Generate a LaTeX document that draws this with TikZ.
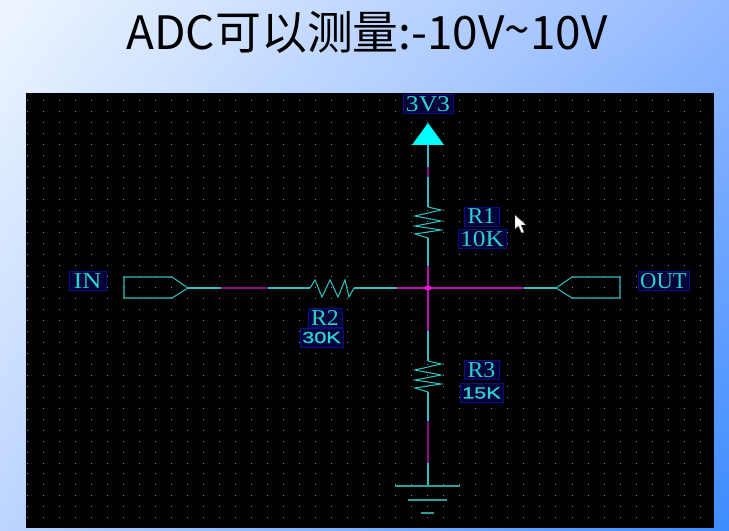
\documentclass[tikz,border=0pt]{standalone}
\usepackage{fontspec}
\setmainfont{Liberation Serif}
\newfontfamily\titlefont{Noto Sans CJK SC}
\newfontfamily\valfont[FakeBold=1.2]{Liberation Sans}
\usetikzlibrary{calc,shadings}
\definecolor{bgul}{HTML}{EEF6FF}
\definecolor{bgur}{HTML}{94B9FF}
\definecolor{bgll}{HTML}{BDD5FF}
\definecolor{bglr}{HTML}{3C8CFF}
\definecolor{wirec}{HTML}{30C0C0}
\definecolor{gndc}{HTML}{2E9E98}
\definecolor{magw}{HTML}{8A1080}
\definecolor{hotw}{HTML}{B810A8}
\definecolor{jdot}{HTML}{F010E0}
\definecolor{labbg}{HTML}{03033A}
\definecolor{labbd}{HTML}{0A1080}
\definecolor{labtx}{HTML}{2CD0D4}
\definecolor{dotc}{HTML}{8C8C8C}
\definecolor{trig}{HTML}{00FFFF}
\newcommand{\labtext}[2]{\raisebox{-0.7pt}{\scalebox{#1}[1]{#2}}}
\tikzset{
  wire/.style={draw=wirec,line width=0.78pt},
  gndl/.style={draw=gndc,line width=#1},
  busm/.style={draw=magw,line width=1pt},
  bush/.style={draw=hotw,line width=1pt},
  lab/.style={fill=labbg,draw=labbd,line width=0.6pt,text=labtx,inner sep=0pt,anchor=center,font=\fontsize{17}{17}\selectfont},
  lbl/.style={lab,minimum width=#1*0.75pt,minimum height=14.25pt},
  valb/.style={lab,minimum width=#1*0.75pt,minimum height=14.25pt,font=\valfont\fontsize{12}{13}\selectfont}
}
\begin{document}
\begin{tikzpicture}[x=0.75pt,y=-0.75pt]
\useasboundingbox (0,0) rectangle (729,531);
\shade[upper left=bgul,upper right=bgur,lower left=bgll,lower right=bglr] (0,0) rectangle (729,531);
\fill[black] (26,93) rectangle (714,528);
\foreach \i in {0,...,42}{\foreach \j in {0,...,38}{
  \fill[dotc] ({27+16.03*\i-0.5},{101+10.97*\j-0.5}) rectangle ++(1,1);
}}
\node[text=black,font=\titlefont\fontsize{33.5}{34}\selectfont,inner sep=0pt] (title) at (367,32) {\scalebox{1.027}[1.03]{ADC可以测量:-10V\raisebox{0.1ex}{\char`\~}10V}};
% coordinates
\coordinate (pwr) at (428,145);
\coordinate (r1t) at (428,207);
\coordinate (r1b) at (428,238);
\coordinate (j) at (428,288);
\coordinate (r3t) at (428,361);
\coordinate (r3b) at (428,392);
\coordinate (gnd) at (428,486);
\coordinate (r2l) at (310,288);
\coordinate (r2r) at (354,288);
\coordinate (inp) at (188,288);
\coordinate (outp) at (556,288);
% power
\fill[trig] (428,123) -- (412,145) -- (444,145) -- cycle;
\path[wire] (pwr) -- (r1t);
\path[busm] (428,167) -- (428,177);
\path[wire] (r1t) -- (441,210) -- (415,216) -- (441,221) -- (415,226) -- (441,230) -- (415,234) -- (r1b);
\path[wire] (r1b) -- (j);
\path[bush] (428,266) -- (428,331);
% R3
\path[wire] (428,331) -- (r3t);
\path[wire] (r3t) -- (441,364) -- (415,370) -- (441,375) -- (415,380) -- (441,384) -- (415,388) -- (r3b);
\path[wire] (r3b) -- (gnd);
\path[busm] (428,421) -- (428,463);
% ground
\path[gndl=0.9pt] (395,486) -- (460,486);
\path[gndl=1.3pt] (408,500) -- (447,500);
\path[gndl=0.9pt] (421,513) -- (434,513);
% horizontal
\path[wire] (124,277) -- (172,277) -- (inp) -- (172,298) -- (124,298) -- cycle;
\path[wire] (inp) -- (r2l);
\path[busm] (221,288) -- (268,288);
\path[wire] (r2l) -- (315,280) -- (322,297) -- (330,280) -- (338,297) -- (345,280) -- (349,297) -- (r2r);
\path[wire] (r2r) -- (outp);
\path[bush] (397,288) -- (524,288);
\path[wire] (outp) -- (572,277) -- (620,277) -- (620,298) -- (572,298) -- cycle;
\fill[jdot] (j) ellipse (3.6 and 2.6);
% labels
\node[lbl=50] (l3v3) at (428,104) {\labtext{1.13}{3V3}};
\node[lbl=35] (lr1) at (481.5,216.5) {\labtext{1.05}{R1}};
\node[lbl=48] (l10k) at (482,239) {\labtext{1.12}{10K}};
\node[lbl=37] (lin) at (87.5,281) {\labtext{1.17}{IN}};
\node[lbl=34] (lr2) at (325,317.5) {\labtext{1.05}{R2}};
\node[valb=43] (l30k) at (321.5,337.5) {\labtext{1.35}{30K}};
\node[lbl=35] (lr3) at (481.5,370) {\labtext{1.05}{R3}};
\node[valb=43] (l15k) at (481.5,393) {\labtext{1.35}{15K}};
\node[lbl=51] (lout) at (663.5,281) {\labtext{1}{OUT}};
% mouse cursor
\fill[white,draw=black!60,line width=0.3pt] (515,215) -- (515,229) -- (518.5,226) -- (521.5,233) -- (524,232) -- (521,225) -- (526,225) -- cycle;
\end{tikzpicture}
\end{document}
